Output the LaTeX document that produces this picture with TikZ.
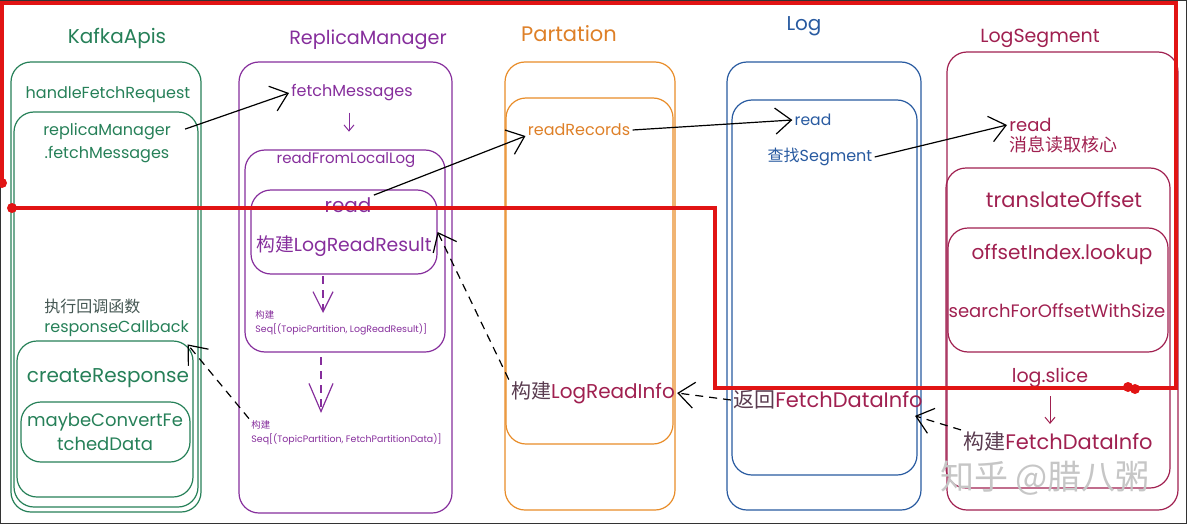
\documentclass[tikz,border=0pt]{standalone}
\usepackage{fontspec}
\setmainfont{Poppins}
\newfontfamily\cjk{Noto Sans CJK SC}
\usepackage{tikz}
\usetikzlibrary{arrows.meta}

\definecolor{kgreen}{RGB}{38,128,88}
\definecolor{rpurple}{RGB}{134,46,156}
\definecolor{porange}{RGB}{232,140,40}
\definecolor{ptext}{RGB}{222,128,40}
\definecolor{lblue}{RGB}{40,90,160}
\definecolor{smaroon}{RGB}{160,32,80}
\definecolor{hlred}{RGB}{225,20,20}
\definecolor{darktxt}{RGB}{90,60,80}

\tikzset{
  box/.style={draw, rounded corners=10pt, line width=0.6pt, inner sep=0pt},
  lbl/.style={inner sep=1pt, align=center},
  flow/.style={-{Straight Barb[length=8pt,width=13pt]}, line width=0.6pt},
  back/.style={flow, dash pattern=on 4pt off 3pt},
}
\newcommand{\fsz}[1]{\fontsize{#1}{#1}\selectfont}

\begin{document}
\begin{tikzpicture}[x=0.5pt, y=-0.5pt]
\useasboundingbox (0,0) rectangle (1187,524);
\draw[gray!40!black, line width=0.5pt] (0.5,0.5) rectangle (1186.5,523.5);

\path (117,38) node[lbl, text=kgreen, font=\fsz{10}] (kafka-title) {KafkaApis};
\path (368,40) node[lbl, text=rpurple, font=\fsz{9.6}] (rm-title) {ReplicaManager};
\path (569,34) node[lbl, text=ptext, font=\fsz{10.5}] (part-title) {Partation};
\path (804,26) node[lbl, text=lblue, font=\fsz{10}] (log-title) {Log};
\path (1040,38) node[lbl, text=smaroon, font=\fsz{9.5}] (seg-title) {LogSegment};

\path (106,287) node[box, draw=kgreen, minimum width=95pt, minimum height=225pt] (kafka-outer) {};
\path (106,309.5) node[box, draw=kgreen, minimum width=92pt, minimum height=197.5pt] (kafka-inner) {};
\path (105,419) node[box, draw=kgreen, minimum width=88pt, minimum height=78pt] (kafka-resp) {};
\path (105.5,432) node[box, draw=kgreen, minimum width=84.5pt, minimum height=30pt] (kafka-conv) {};
\path (108,95) node[lbl, text=kgreen, font=\fsz{8}] (handle-fetch) {handleFetchRequest};
\path (107,143) node[lbl, text=kgreen, font=\fsz{8}] (rm-call) {replicaManager\\[2pt].fetchMessages};
\path (42,318) node[lbl, anchor=west, align=left, text=kgreen, font=\fsz{8}] (callback) {{\cjk\color{darktxt!60!kgreen}执行回调函数}\\[2pt]responseCallback};
\path (108,378) node[lbl, text=kgreen, font=\fsz{10}] (create-resp) {createResponse};
\path (105,432) node[lbl, text=kgreen, font=\fsz{9}] (convert) {maybeConvertFe\\[3pt]tchedData};

\path (345.5,287.5) node[box, draw=rpurple, minimum width=106.5pt, minimum height=225.5pt] (rm-outer) {};
\path (345,251) node[box, draw=rpurple, minimum width=100pt, minimum height=101pt] (rm-local) {};
\path (344,232) node[box, draw=rpurple, minimum width=93pt, minimum height=42pt] (rm-read) {};
\path (352,93) node[lbl, text=rpurple, font=\fsz{8}] (fetch-msg) {fetchMessages};
\path (346,160) node[lbl, text=rpurple, font=\fsz{7.5}] (local-log) {readFromLocalLog};
\path (348,205) node[lbl, text=rpurple, font=\fsz{10}] (read-rm) {read};
\path (344,246) node[lbl, text=rpurple, font=\fsz{9.4}] (read-result) {{\cjk 构建}LogReadResult};
\path (253,323) node[lbl, anchor=west, align=left, text=rpurple, font=\fsz{4.7}] (seq-result) {{\cjk 构建}\\[1pt]Seq[(TopicPartition, LogReadResult)]};
\path (249,433) node[lbl, anchor=west, align=left, text=rpurple, font=\fsz{4.7}] (seq-fetch) {{\cjk 构建}\\[1pt]Seq[(TopicPartition, FetchPartitionData)]};
\coordinate (dash-a1) at (323,276);
\coordinate (dash-a2) at (323,313);
\coordinate (dash-b1) at (321,357);
\coordinate (dash-b2) at (321,413);

\path (590,286) node[box, draw=porange, minimum width=85pt, minimum height=224pt] (part-outer) {};
\path (589.5,271) node[box, draw=porange, minimum width=83.5pt, minimum height=173pt] (part-inner) {};
\path (579,130) node[lbl, text=ptext, font=\fsz{8}] (read-rec) {readRecords};
\path (593,393) node[lbl, text=smaroon, font=\fsz{10}] (read-info) {{\cjk\color{darktxt}构建}LogReadInfo};

\path (824,286) node[box, draw=lblue, minimum width=97pt, minimum height=224pt] (log-outer) {};
\path (824.5,287.5) node[box, draw=lblue, minimum width=92.5pt, minimum height=187.5pt] (log-inner) {};
\path (813,120) node[lbl, text=lblue, font=\fsz{7.8}] (read-log) {read};
\path (820,157) node[lbl, text=lblue, font=\fsz{8}] (find-seg) {{\cjk 查找}Segment};
\path (828,400) node[lbl, text=smaroon, font=\fsz{10.5}] (ret-info) {{\cjk\color{darktxt}返回}FetchDataInfo};

\path (1062.5,281) node[box, draw=smaroon, minimum width=115.5pt, minimum height=229pt] (seg-outer) {};
\path (1058,328) node[box, draw=smaroon, minimum width=112pt, minimum height=160pt] (seg-trans) {};
\path (1058,290) node[box, draw=smaroon, minimum width=110pt, minimum height=62pt] (seg-index) {};
\path (1007,125) node[lbl, anchor=west, text=smaroon, font=\fsz{9}] (read-seg) {read};
\path (1007,145) node[lbl, anchor=west, text=smaroon, font=\fsz{9}] (read-core) {\cjk 消息读取核心};
\path (1064,200) node[lbl, text=smaroon, font=\fsz{10.5}] (translate) {translateOffset};
\path (1062,254) node[lbl, text=smaroon, font=\fsz{10}] (lookup) {offsetIndex.lookup};
\path (1057,311) node[lbl, text=smaroon, font=\fsz{9}] (search) {searchForOffsetWithSize};
\path (1050,378) node[lbl, text=smaroon, font=\fsz{9.5}] (log-slice) {log.slice};
\path (1058,442) node[lbl, text=smaroon, font=\fsz{10.5}] (build-info) {{\cjk\color{darktxt}构建}FetchDataInfo};
\path (1045,478) node[lbl, text=gray!45, font=\fsz{17}] (watermark) {\cjk 知乎 @腊八粥};

\draw[flow] ([xshift=6pt,yshift=-4pt]rm-call.north east) -- (fetch-msg.west);
\draw[-{Straight Barb[length=3pt,width=5pt]}, rpurple, line width=0.5pt] (fetch-msg.south) ++(-3,9) -- ++(0,19);
\draw[back, rpurple, -{Straight Barb[length=10pt,width=10pt]}] (dash-a1) -- (dash-a2);
\draw[back, rpurple, -{Straight Barb[length=14pt,width=12pt]}] (dash-b1) -- (dash-b2);
\draw[flow] (read-rm.north east) -- ([yshift=-3pt]read-rec.west);
\draw[flow] (read-rec.east) -- (read-log.west);
\draw[flow] (find-seg.east) -- (read-seg.west);
\draw[-{Straight Barb[length=3pt,width=5pt]}, smaroon, line width=0.5pt] ([yshift=-3pt]log-slice.south) -- ([yshift=3pt]log-slice.south |- build-info.north);
\draw[back] (build-info.north west) -- ([xshift=-5pt,yshift=-2pt]ret-info.south east);
\draw[back] (ret-info.west) -- (read-info.east);
\draw[back] (read-info.north west) -- (rm-read.east);
\draw[back] (seq-fetch.north west) -- ([xshift=-3pt,yshift=-2pt]kafka-resp.north east);

\draw[hlred, line width=2pt, line join=miter]
  (2,183) -- (2,3) -- (1176,3) -- (1176,388) -- (715,388) -- (715,208) -- (12,208);
\fill[hlred] (2,183) circle (2.5pt) (12,208) circle (2.5pt)
  (1128,387) circle (2.5pt) (1135,389) circle (2.5pt);
\end{tikzpicture}
\end{document}
